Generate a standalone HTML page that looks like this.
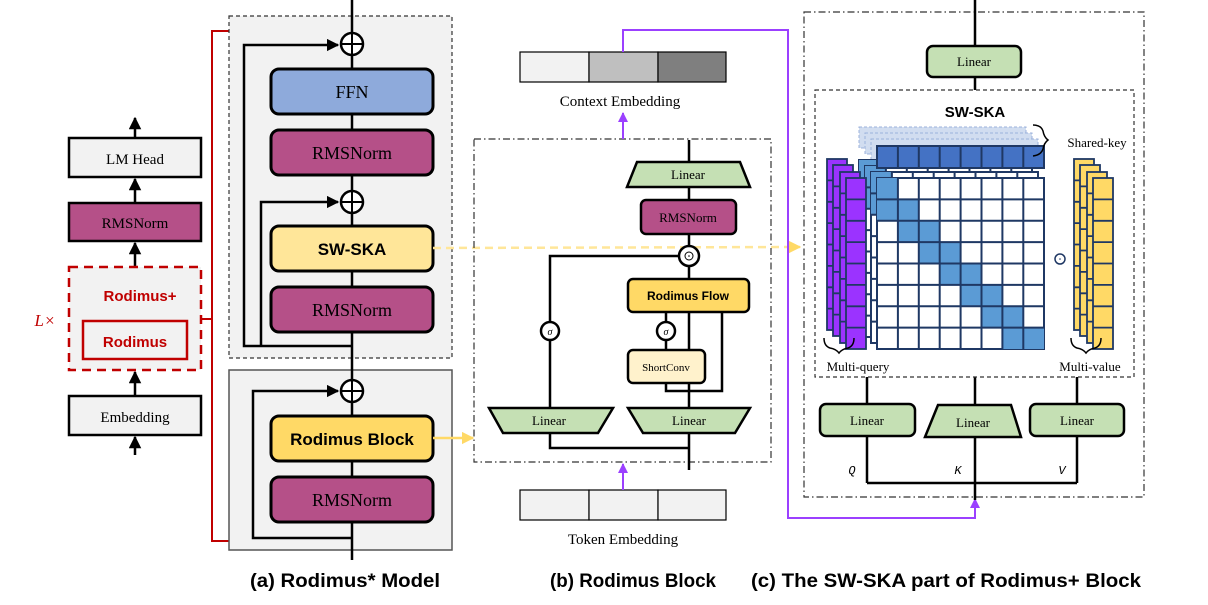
<!DOCTYPE html>
<html><head><meta charset="utf-8"><style>
html,body{margin:0;padding:0;background:#fff}
svg{display:block}
.s{font-family:"Liberation Serif",serif;fill:#000}
.b{font-family:"Liberation Sans",sans-serif;font-weight:bold;fill:#000}
</style></head><body>
<svg width="1208" height="605" viewBox="0 0 1208 605" xmlns="http://www.w3.org/2000/svg">
<defs>
<marker id="ar" viewBox="0 0 10 10" refX="9" refY="5" markerWidth="5" markerHeight="5" orient="auto"><path d="M0,0 L10,5 L0,10 z" fill="#000"/></marker>
<marker id="ap" viewBox="0 0 10 10" refX="9" refY="5" markerWidth="5" markerHeight="5" orient="auto"><path d="M0,0 L10,5 L0,10 z" fill="#9b40ff"/></marker>
<marker id="ay" viewBox="0 0 10 10" refX="9" refY="5" markerWidth="5" markerHeight="5" orient="auto"><path d="M0,0 L10,5 L0,10 z" fill="#ffd966"/></marker>
<g id="grid">
<rect x="877" y="178" width="167" height="171" fill="#fff" stroke="#1f3864" stroke-width="2"/>
<g fill="#5b9bd5">
<rect x="877" y="178" width="20.9" height="21.4"/>
<rect x="877" y="199.4" width="41.8" height="21.4"/>
<rect x="897.9" y="220.8" width="41.8" height="21.4"/>
<rect x="918.8" y="242.1" width="41.8" height="21.4"/>
<rect x="939.7" y="263.5" width="41.8" height="21.4"/>
<rect x="960.6" y="284.9" width="41.8" height="21.4"/>
<rect x="981.5" y="306.3" width="41.8" height="21.4"/>
<rect x="1002.4" y="327.6" width="41.6" height="21.4"/>
</g>
<g stroke="#1f3864" stroke-width="2">
<path d="M897.9,178V349M918.8,178V349M939.7,178V349M960.6,178V349M981.5,178V349M1002.4,178V349M1023.3,178V349"/>
<path d="M877,199.4H1044M877,220.8H1044M877,242.1H1044M877,263.5H1044M877,284.9H1044M877,306.3H1044M877,327.6H1044"/>
</g>
</g>
<g id="col" stroke="#1f3864" stroke-width="1.8">
<rect x="0" y="0" width="20" height="171"/>
<path d="M0,21.4H20M0,42.8H20M0,64.1H20M0,85.5H20M0,106.9H20M0,128.3H20M0,149.6H20" fill="none"/>
</g>
</defs>

<!-- ===== Left column ===== -->
<g stroke="#000" stroke-width="2.5" fill="none">
<line x1="135" y1="455" x2="135" y2="437" marker-end="url(#ar)"/>
<line x1="135" y1="396" x2="135" y2="372" marker-end="url(#ar)"/>
<line x1="135" y1="267" x2="135" y2="243" marker-end="url(#ar)"/>
<line x1="135" y1="203" x2="135" y2="179" marker-end="url(#ar)"/>
<line x1="135" y1="138" x2="135" y2="118" marker-end="url(#ar)"/>
</g>
<rect x="69" y="138" width="132" height="39" fill="#f2f2f2" stroke="#000" stroke-width="2.5"/>
<text class="s" x="135" y="164" font-size="15" text-anchor="middle">LM Head</text>
<rect x="69" y="203" width="132" height="38" fill="#b55088" stroke="#000" stroke-width="2.5"/>
<text class="s" x="135" y="228" font-size="15" text-anchor="middle">RMSNorm</text>
<rect x="69" y="267" width="132" height="103" fill="#f2f2f2" stroke="#c00000" stroke-width="2.5" stroke-dasharray="9,6"/>
<text class="b" x="140" y="301" font-size="15" text-anchor="middle" fill="#c00000" style="fill:#c00000">Rodimus+</text>
<rect x="83" y="321" width="104" height="38" fill="#f2f2f2" stroke="#c00000" stroke-width="2.5"/>
<text class="b" x="135" y="347" font-size="15" text-anchor="middle" style="fill:#c00000">Rodimus</text>
<text x="45" y="326" font-size="17" text-anchor="middle" font-family="Liberation Serif,serif" font-style="italic" fill="#c00000">L×</text>
<rect x="69" y="396" width="132" height="39" fill="#f2f2f2" stroke="#000" stroke-width="2.5"/>
<text class="s" x="135" y="422" font-size="15" text-anchor="middle">Embedding</text>
<path d="M202,319H212M229,31H212V541H229" stroke="#c00000" stroke-width="2" fill="none"/>

<!-- ===== Panel (a) ===== -->
<rect x="229" y="16" width="223" height="342" fill="#f2f2f2" stroke="#333" stroke-width="1.2" stroke-dasharray="4,3"/>
<rect x="229" y="370" width="223" height="180" fill="#f2f2f2" stroke="#555" stroke-width="1.5"/>
<g stroke="#000" stroke-width="2.5" fill="none">
<line x1="352" y1="0" x2="352" y2="560"/>
<path d="M352,346H244V45H338" marker-end="url(#ar)"/>
<path d="M261,346V202H338" marker-end="url(#ar)"/>
<path d="M352,538H253V391H338" marker-end="url(#ar)"/>
</g>
<g fill="#fff" stroke="#000" stroke-width="2.5">
<circle cx="352" cy="44" r="11"/><circle cx="352" cy="202" r="11"/><circle cx="352" cy="391" r="11"/>
</g>
<path d="M341,44H363M352,33V55M341,202H363M352,191V213M341,391H363M352,380V402" stroke="#000" stroke-width="2"/>
<g stroke="#000" stroke-width="3">
<rect x="271" y="69" width="162" height="45" rx="8" fill="#8eaadb"/>
<rect x="271" y="130" width="162" height="45" rx="8" fill="#b55088"/>
<rect x="271" y="226" width="162" height="45" rx="8" fill="#ffe699"/>
<rect x="271" y="287" width="162" height="45" rx="8" fill="#b55088"/>
<rect x="271" y="416" width="162" height="45" rx="8" fill="#ffd966"/>
<rect x="271" y="477" width="162" height="45" rx="8" fill="#b55088"/>
</g>
<text class="s" x="352" y="98" font-size="18" text-anchor="middle">FFN</text>
<text class="s" x="352" y="159" font-size="18" text-anchor="middle">RMSNorm</text>
<text class="b" x="352" y="255" font-size="17" text-anchor="middle">SW-SKA</text>
<text class="s" x="352" y="316" font-size="18" text-anchor="middle">RMSNorm</text>
<text class="b" x="352" y="445" font-size="17" text-anchor="middle">Rodimus Block</text>
<text class="s" x="352" y="506" font-size="18" text-anchor="middle">RMSNorm</text>

<line x1="433" y1="248" x2="800" y2="247" stroke="#ffe699" stroke-width="2.5" stroke-dasharray="8,5" marker-end="url(#ay)"/>
<line x1="433" y1="438" x2="473" y2="438" stroke="#ffd966" stroke-width="2.5" marker-end="url(#ay)"/>

<!-- ===== Panel (b) ===== -->
<rect x="474" y="139" width="297" height="323" fill="none" stroke="#333" stroke-width="1.2" stroke-dasharray="7,3,1.5,3"/>
<rect x="520" y="52" width="69" height="30" fill="#f2f2f2" stroke="#000" stroke-width="1.2"/>
<rect x="589" y="52" width="69" height="30" fill="#bfbfbf" stroke="#000" stroke-width="1.2"/>
<rect x="658" y="52" width="68" height="30" fill="#7f7f7f" stroke="#000" stroke-width="1.2"/>
<text class="s" x="620" y="106" font-size="15" text-anchor="middle">Context Embedding</text>
<rect x="520" y="490" width="69" height="30" fill="#f2f2f2" stroke="#000" stroke-width="1.2"/>
<rect x="589" y="490" width="69" height="30" fill="#f2f2f2" stroke="#000" stroke-width="1.2"/>
<rect x="658" y="490" width="68" height="30" fill="#f2f2f2" stroke="#000" stroke-width="1.2"/>
<text class="s" x="623" y="544" font-size="15" text-anchor="middle">Token Embedding</text>
<line x1="623" y1="139" x2="623" y2="113" stroke="#9b40ff" stroke-width="2" marker-end="url(#ap)"/>
<line x1="623" y1="490" x2="623" y2="464" stroke="#9b40ff" stroke-width="2" marker-end="url(#ap)"/>
<path d="M623,52V30H788V518H975V499" stroke="#9b40ff" stroke-width="2" fill="none" marker-end="url(#ap)"/>

<g stroke="#000" stroke-width="2.5" fill="none">
<line x1="689" y1="140" x2="689" y2="470"/>
<path d="M689,256H550V408"/>
<path d="M666,312V350"/>
<path d="M666,383V391H722V312"/>
<path d="M550,433V448H689"/>
</g>
<g stroke="#000" stroke-width="2.5">
<polygon points="637,162 740,162 750,187 627,187" fill="#c5e0b4"/>
<rect x="641" y="200" width="95" height="34" rx="5" fill="#b55088"/>
<rect x="628" y="279" width="121" height="33" rx="5" fill="#ffd966"/>
<rect x="628" y="350" width="77" height="33" rx="5" fill="#fff2cc"/>
<polygon points="489,408 613,408 598,433 503,433" fill="#c5e0b4"/>
<polygon points="628,408 750,408 735,433 643,433" fill="#c5e0b4"/>
<circle cx="689" cy="256" r="10" fill="#fff"/>
<circle cx="550" cy="331" r="9" fill="#fff"/>
<circle cx="666" cy="331" r="9" fill="#fff"/>
</g>
<circle cx="689" cy="256" r="4" fill="none" stroke="#000" stroke-width="1"/>
<circle cx="689" cy="256" r="0.8" fill="#000"/>
<text class="s" x="550" y="335" font-size="10" font-style="italic" text-anchor="middle">σ</text>
<text class="s" x="666" y="335" font-size="10" font-style="italic" text-anchor="middle">σ</text>
<text class="s" x="688" y="179" font-size="13" text-anchor="middle">Linear</text>
<text class="s" x="688" y="222" font-size="13" text-anchor="middle">RMSNorm</text>
<text class="b" x="688" y="300" font-size="12" text-anchor="middle">Rodimus Flow</text>
<text class="s" x="666" y="371" font-size="11" text-anchor="middle">ShortConv</text>
<text class="s" x="549" y="425" font-size="13" text-anchor="middle">Linear</text>
<text class="s" x="689" y="425" font-size="13" text-anchor="middle">Linear</text>

<!-- ===== Panel (c) ===== -->
<rect x="804" y="12" width="340" height="485" fill="none" stroke="#333" stroke-width="1.2" stroke-dasharray="7,3,1.5,3"/>
<g stroke="#000" stroke-width="2.5" fill="none">
<line x1="975" y1="0" x2="975" y2="90"/>
<line x1="867" y1="377" x2="867" y2="483"/>
<line x1="975" y1="377" x2="975" y2="500"/>
<line x1="1077" y1="377" x2="1077" y2="483"/>
<line x1="867" y1="483" x2="1077" y2="483"/>
</g>
<rect x="815" y="90" width="319" height="287" fill="#fff" stroke="#333" stroke-width="1.2" stroke-dasharray="4,3"/>
<rect x="927" y="46" width="94" height="31" rx="6" fill="#c5e0b4" stroke="#000" stroke-width="2.5"/>
<text class="s" x="974" y="66" font-size="13" text-anchor="middle">Linear</text>
<text class="b" x="975" y="117" font-size="15" text-anchor="middle">SW-SKA</text>

<!-- shared key faded -->
<g stroke="#5b7fc4" stroke-width="1" stroke-dasharray="3,2" fill="#b4c7e7" opacity="0.6">
<rect x="859" y="127" width="167" height="21"/>
<rect x="865" y="133" width="167" height="21"/>
<rect x="871" y="139" width="167" height="21"/>
</g>
<!-- back grids -->
<use href="#grid" transform="translate(-18,-18)"/>
<use href="#grid" transform="translate(-12,-12)"/>
<use href="#grid" transform="translate(-6,-6)"/>
<use href="#grid"/>
<!-- shared key -->
<g stroke="#1f3864" stroke-width="2" fill="#4472c4">
<rect x="877" y="146" width="167" height="22"/>
<path d="M897.9,146V168M918.8,146V168M939.7,146V168M960.6,146V168M981.5,146V168M1002.4,146V168M1023.3,146V168"/>
</g>
<!-- purple cols -->
<g fill="#9b33ff">
<use href="#col" transform="translate(827,159)"/>
<use href="#col" transform="translate(833,165)"/>
<use href="#col" transform="translate(840,172)"/>
<use href="#col" transform="translate(846,178)"/>
</g>
<!-- yellow cols -->
<g fill="#ffd966">
<use href="#col" transform="translate(1074,159)"/>
<use href="#col" transform="translate(1080,165)"/>
<use href="#col" transform="translate(1087,172)"/>
<use href="#col" transform="translate(1093,178)"/>
</g>
<circle cx="1060" cy="259" r="5" fill="#fff" stroke="#1f3864" stroke-width="1.5"/>
<circle cx="1060" cy="259" r="0.8" fill="#1f3864"/>
<!-- braces -->
<g stroke="#000" stroke-width="1.5" fill="none">
<path d="M1033,125 q8,0 10,6 q1,6 5,9 q-4,3 -5,9 q-2,6 -10,7"/>
<path d="M824,338 q0,8 6,10 q6,1 9,5 q3,-4 9,-5 q6,-2 6,-10"/>
<path d="M1071,338 q0,8 6,10 q6,1 9,5 q3,-4 9,-5 q6,-2 6,-10"/>
</g>
<text class="s" x="1097" y="147" font-size="13" text-anchor="middle">Shared-key</text>
<text class="s" x="858" y="371" font-size="13" text-anchor="middle">Multi-query</text>
<text class="s" x="1090" y="371" font-size="13" text-anchor="middle">Multi-value</text>

<g stroke="#000" stroke-width="2.5">
<rect x="820" y="404" width="95" height="32" rx="6" fill="#c5e0b4"/>
<polygon points="938,405 1011,405 1021,437 925,437" fill="#c5e0b4"/>
<rect x="1030" y="404" width="94" height="32" rx="6" fill="#c5e0b4"/>
</g>
<text class="s" x="867" y="425" font-size="13" text-anchor="middle">Linear</text>
<text class="s" x="973" y="427" font-size="13" text-anchor="middle">Linear</text>
<text class="s" x="1077" y="425" font-size="13" text-anchor="middle">Linear</text>
<g font-family="Liberation Mono,monospace" font-style="italic" font-size="12" fill="#000" text-anchor="middle">
<text x="852" y="474">Q</text><text x="958" y="474">K</text><text x="1062" y="474">V</text>
</g>

<!-- captions -->
<text class="b" x="345" y="587" font-size="19" text-anchor="middle" textLength="190" lengthAdjust="spacingAndGlyphs">(a) Rodimus* Model</text>
<text class="b" x="633" y="587" font-size="19" text-anchor="middle" textLength="166" lengthAdjust="spacingAndGlyphs">(b) Rodimus Block</text>
<text class="b" x="946" y="587" font-size="19" text-anchor="middle" textLength="390" lengthAdjust="spacingAndGlyphs">(c) The SW-SKA part of Rodimus+ Block</text>
</svg>
</body></html>
